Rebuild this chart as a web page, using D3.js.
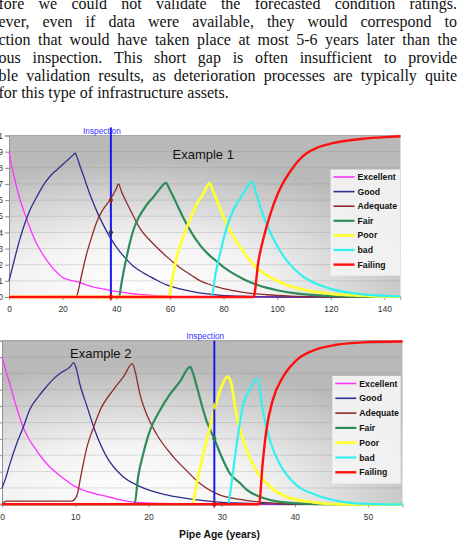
<!DOCTYPE html>
<html>
<head>
<meta charset="utf-8">
<script src="https://cdn.jsdelivr.net/npm/d3@7"></script>
<style>
  body { margin: 0; background: #fff; }
  svg { display: block; }
</style>
</head>
<body>
<svg width="474" height="555"></svg>
<script>

// ---- data ----
var paragraph = [
  "fore we could not validate the forecasted condition ratings.",
  "ever, even if data were available, they would correspond to",
  "ction that would have taken place at most 5-6 years later than the",
  "ous inspection. This short gap is often insufficient to provide",
  "ble validation results, as deterioration processes are typically quite",
  "for this type of infrastructure assets."
];

var conditions = ["Excellent", "Good", "Adequate", "Fair", "Poor", "bad", "Failing"];

// Example 1: [age, probability]
var excellent1 = [[0,0.90],[1,0.81],[2,0.74],[3,0.67],[4,0.61],[6,0.51],[8,0.42],[10,0.34],[12,0.28],[14,0.23],[16,0.185],[18,0.15],[20,0.12],[22,0.108],[24,0.10],[25,0.097],[28,0.08],[31,0.065],[34,0.053],[38,0.04],[42,0.03],[46,0.02],[50,0.014],[55,0.008],[60,0.004],[70,0.001],[80,0],[146,0]];
var good1 = [[0,0.10],[1,0.165],[2,0.23],[3,0.295],[4,0.355],[5,0.41],[6,0.46],[7,0.505],[8,0.545],[10,0.61],[12,0.67],[14,0.72],[16,0.76],[18,0.79],[20,0.82],[22,0.85],[24,0.88],[24.7,0.89],[25.5,0.86],[26.5,0.81],[28,0.74],[29,0.69],[31,0.60],[33.3,0.51],[36,0.42],[38,0.36],[41.4,0.28],[44,0.23],[46.4,0.19],[50,0.15],[52.6,0.126],[55,0.105],[58.8,0.075],[62,0.058],[65,0.045],[71,0.025],[78,0.012],[86,0.005],[100,0],[146,0]];
var adequate1 = [[0,0],[25,0],[26,0.05],[27,0.13],[29,0.27],[31,0.38],[32.7,0.465],[35,0.54],[38,0.61],[40,0.67],[40.8,0.70],[42,0.65],[44,0.58],[46.4,0.50],[49,0.42],[52.6,0.35],[55,0.31],[58.8,0.25],[62,0.205],[65,0.167],[68,0.135],[71.3,0.10],[74,0.082],[77.5,0.062],[83.7,0.039],[90,0.023],[96,0.014],[105,0.006],[115,0.002],[125,0],[146,0]];
var fair1 = [[0,0],[41,0],[42,0.09],[43,0.18],[43.9,0.25],[45,0.33],[46.4,0.415],[48,0.48],[50.1,0.54],[52,0.585],[53.9,0.62],[56,0.665],[58.6,0.707],[59.5,0.68],[61.3,0.62],[63,0.56],[65,0.49],[68,0.40],[71.3,0.32],[74,0.27],[77.5,0.22],[80,0.185],[83.7,0.145],[87,0.115],[90,0.092],[93,0.073],[96,0.058],[100,0.042],[107,0.022],[115,0.01],[125,0.004],[146,0]];
var poor1 = [[0,0],[59.5,0],[61,0.12],[62.6,0.25],[64.5,0.35],[66.3,0.43],[68,0.50],[70,0.575],[72.5,0.64],[74.8,0.705],[76,0.66],[78.7,0.55],[81.2,0.45],[83.7,0.375],[87.4,0.28],[91.2,0.20],[96,0.135],[100,0.10],[104,0.072],[108.6,0.05],[115,0.03],[120,0.02],[130,0.009],[146,0.002]];
var bad1 = [[0,0],[75.5,0],[77,0.14],[78.7,0.27],[81.2,0.43],[83.7,0.54],[87.4,0.64],[90.6,0.715],[92,0.65],[93.7,0.56],[96.1,0.45],[99.9,0.32],[103.6,0.225],[108.6,0.14],[114.8,0.08],[120,0.05],[125,0.032],[132,0.016],[140,0.007],[146,0.004]];
var failing1 = [[0,0],[91.2,0],[93,0.22],[95,0.37],[97.4,0.51],[100,0.63],[102,0.70],[105,0.78],[108,0.845],[111,0.89],[115,0.925],[120,0.95],[126,0.968],[132,0.98],[140,0.99],[146,0.995]];

// Example 2: [age, probability]
var excellent2 = [[0,0.90],[0.5,0.82],[1.1,0.73],[2,0.59],[2.9,0.47],[3.8,0.39],[4.7,0.33],[5.5,0.28],[6.5,0.23],[7.5,0.19],[8.5,0.155],[10,0.108],[11.5,0.08],[13.4,0.057],[15,0.04],[17.5,0.017],[19,0.01],[22,0.005],[26,0],[54.7,0]];
var good2 = [[0,0.10],[0.5,0.16],[1.1,0.25],[2,0.37],[2.9,0.47],[3.8,0.58],[5,0.66],[6.1,0.72],[7,0.765],[7.9,0.80],[9.3,0.84],[9.8,0.866],[10.2,0.82],[10.6,0.74],[11.6,0.60],[12.7,0.45],[14.3,0.29],[16.5,0.17],[18.8,0.11],[22.5,0.057],[27,0.025],[29,0.015],[32,0.008],[36,0.003],[40,0],[54.7,0]];
var adequate2 = [[0,0],[0.6,0.02],[9.5,0.02],[10.2,0.05],[10.8,0.18],[11.6,0.35],[12.5,0.47],[13.4,0.575],[15.2,0.70],[16.6,0.78],[17.8,0.86],[18.3,0.79],[18.8,0.68],[19.7,0.556],[21.1,0.43],[23.4,0.29],[25,0.215],[27,0.128],[29.7,0.057],[32.5,0.03],[35,0.015],[38,0.005],[42,0],[54.7,0]];
var fair2 = [[0,0],[18.1,0],[18.6,0.17],[19.3,0.31],[20.2,0.45],[21.6,0.576],[22.9,0.67],[24.3,0.75],[25.7,0.84],[26.1,0.80],[26.6,0.72],[27.9,0.515],[29,0.40],[30.1,0.28],[31.1,0.19],[32.5,0.13],[33.4,0.09],[35.6,0.04],[37.9,0.015],[42,0.003],[45,0],[54.7,0]];
var poor2 = [[0,0],[26,0],[26.6,0.13],[27.5,0.31],[28.4,0.47],[29,0.58],[30,0.72],[30.8,0.78],[31.3,0.74],[32,0.55],[32.7,0.43],[33.4,0.33],[34.7,0.21],[36.6,0.108],[38.8,0.047],[42.5,0.012],[46,0],[54.7,0]];
var bad2 = [[0,0],[30.9,0],[31.1,0.05],[32,0.35],[32.9,0.60],[33.8,0.70],[34.9,0.77],[35.6,0.58],[36.6,0.39],[37.9,0.25],[40.2,0.118],[42.9,0.057],[47,0.012],[50,0.003],[54.7,0]];
var failing2 = [[0,0],[35.1,0],[35.6,0.25],[36.1,0.45],[37,0.64],[38.4,0.78],[40.2,0.88],[42.5,0.94],[45.7,0.975],[49.3,0.99],[54.7,0.995]];

var xTicks1 = [0, 20, 40, 60, 80, 100, 120, 140];
var xTicks2 = [0, 10, 20, 30, 40, 50];
var yTicks = [0, 0.1, 0.2, 0.3, 0.4, 0.5, 0.6, 0.7, 0.8, 0.9, 1];

var inspection1 = {age: 38, marks: [["Adequate", 0.6], ["Good", 0.4], ["Failing", 0]]};
var inspection2 = {age: 29, marks: [["Poor", 0.6], ["Fair", 0.4], ["Failing", 0]]};

// ---- styles ----
var colors = {Excellent: "#ff33ff", Good: "#2e2e8c", Adequate: "#8f2a2a", Fair: "#2e8b5a",
              Poor: "#ffff33", bad: "#33f0f0", Failing: "#ff1010"};
var widths = {Excellent: 1.3, Good: 1.3, Adequate: 1.3, Fair: 2.2, Poor: 2.8, bad: 2.2, Failing: 2.4};
var sans = "'Liberation Sans', Arial, sans-serif";

var svg = d3.select("svg");

// ---- paragraph (justified) ----
var para = svg.append("g")
    .style("font-family", "'Liberation Serif', 'Times New Roman', 'DejaVu Serif', serif")
    .style("font-size", "16px")
    .attr("fill", "#111");

paragraph.forEach(function(line, i) {
  var words = line.split(" ");
  var t = para.append("text").attr("y", 9.3 + i * 17.8);
  var spans = t.selectAll("tspan").data(words).join("tspan").text(function(d) { return d; });
  var w = spans.nodes().map(function(n) { return n.getComputedTextLength(); });
  var left = -1.5, right = 457;
  var gap = i < paragraph.length - 1 ? (right - left - d3.sum(w)) / (words.length - 1) : 4;
  var pos = left;
  spans.attr("x", function(d, j) { var p = pos; pos += w[j] + gap; return p; });
});

// ---- charts ----
function drawChart(cfg) {
  var x = d3.scaleLinear().domain([0, cfg.xMax]).range([cfg.left, cfg.right]);
  var y = d3.scaleLinear().domain([0, 1]).range([cfg.bottom, cfg.top]);
  var g = svg.append("g");

  var grad = svg.append("defs").append("radialGradient")
      .attr("id", cfg.id + "-bg")
      .attr("cx", 0.33).attr("cy", 0.95).attr("r", 0.8);
  grad.append("stop").attr("offset", 0).attr("stop-color", "#ffffff");
  grad.append("stop").attr("offset", 0.4).attr("stop-color", "#f3f3f3");
  grad.append("stop").attr("offset", 1).attr("stop-color", "#b9b9b9");

  g.append("rect")
      .attr("x", x(0)).attr("y", y(1))
      .attr("width", x(cfg.xMax) - x(0)).attr("height", y(0) - y(1))
      .attr("fill", "url(#" + cfg.id + "-bg)");

  // grid
  g.append("g").selectAll("line").data(yTicks.slice(1)).join("line")
      .attr("x1", x(0)).attr("x2", x(cfg.xMax))
      .attr("y1", function(d) { return y(d); }).attr("y2", function(d) { return y(d); })
      .attr("stroke", d3.rgb(140, 140, 140, 0.35)).attr("stroke-width", 0.8);
  g.append("line")
      .attr("x1", x(0)).attr("x2", x(cfg.xMax)).attr("y1", y(1)).attr("y2", y(1))
      .attr("stroke", "#a8a8a8").attr("stroke-width", 1.2);

  // axes (y labels only where they reach into the page)
  var yAxis = g.append("g")
      .attr("transform", "translate(" + x(0) + ",0)")
      .call(d3.axisLeft(y).tickValues(yTicks).tickSize(4).tickPadding(2)
            .tickFormat(cfg.yLabels ? d3.format("~g") : ""));
  var xAxis = g.append("g")
      .attr("transform", "translate(0," + y(0) + ")")
      .call(d3.axisBottom(x).tickValues(cfg.xTicks).tickSize(3).tickPadding(cfg.tickPad));
  [xAxis, yAxis].forEach(function(a) {
    a.attr("font-family", sans).attr("font-size", 8.5);
    a.select(".domain").attr("stroke", "#909090");
    a.selectAll(".tick line").attr("stroke", "#909090");
    a.selectAll(".tick text").attr("fill", "#333");
  });

  // curves
  var line = d3.line()
      .x(function(d) { return x(d[0]); })
      .y(function(d) { return y(d[1]); })
      .curve(d3.curveMonotoneX);

  g.append("g").selectAll("path").data(cfg.series).join("path")
      .attr("d", function(d) { return line(d.values); })
      .attr("fill", "none")
      .attr("stroke", function(d) { return colors[d.name]; })
      .attr("stroke-width", function(d) { return widths[d.name]; })
      .attr("stroke-linejoin", "round");

  // inspection
  var ix = x(cfg.inspection.age);
  g.append("line")
      .attr("x1", ix).attr("x2", ix)
      .attr("y1", y(1) - cfg.inspectExtra).attr("y2", y(0))
      .attr("stroke", "#1a1aee").attr("stroke-width", 2);
  g.append("text")
      .attr("x", ix - 9).attr("y", cfg.inspectLabelY)
      .attr("text-anchor", "middle")
      .attr("font-family", sans).attr("font-size", 8.3)
      .attr("fill", "#3535ff")
      .text("Inspection");
  g.append("g").selectAll("path").data(cfg.inspection.marks).join("path")
      .attr("transform", function(d) { return "translate(" + ix + "," + y(d[1]) + ")"; })
      .attr("d", d3.symbol(d3.symbolDiamond, 18))
      .attr("fill", function(d) { return d3.color(colors[d[0]]).darker(0.3); });

  // example label
  g.append("text")
      .attr("x", cfg.exampleX).attr("y", cfg.exampleY)
      .attr("font-family", sans).attr("font-size", 13)
      .attr("fill", "#111")
      .text(cfg.title);

  // legend
  var leg = g.append("g").attr("transform", "translate(" + cfg.legendX + "," + cfg.legendY + ")");
  leg.append("rect")
      .attr("width", cfg.legendW).attr("height", cfg.legendStep * conditions.length + 4)
      .attr("fill", "#f4f4f4").attr("fill-opacity", 0.92);
  var item = leg.selectAll("g").data(conditions).join("g")
      .attr("transform", function(d, i) { return "translate(0," + (7.5 + i * cfg.legendStep) + ")"; });
  item.append("line")
      .attr("x1", 3).attr("x2", 24)
      .attr("stroke", function(d) { return colors[d]; })
      .attr("stroke-width", function(d) { return Math.max(1.6, widths[d]); });
  item.append("text")
      .attr("x", 27).attr("dy", "0.35em")
      .attr("font-family", sans).attr("font-size", 8.7).attr("font-weight", "bold")
      .attr("fill", "#111")
      .text(function(d) { return d; });

  return {x: x, y: y};
}

function seriesOf(list) {
  return conditions.map(function(name, i) { return {name: name, values: list[i]}; });
}

drawChart({
  id: "c1", title: "Example 1", yLabels: true,
  left: 9, right: 400.5, top: 135.5, bottom: 297,
  xMax: 146, xTicks: xTicks1, tickPad: 6,
  series: seriesOf([excellent1, good1, adequate1, fair1, poor1, bad1, failing1]),
  inspection: inspection1, inspectExtra: 8, inspectLabelY: 134,
  exampleX: 172.5, exampleY: 158.5,
  legendX: 330.5, legendY: 169.5, legendW: 69.5, legendStep: 14.6
});

drawChart({
  id: "c2", title: "Example 2", yLabels: false,
  left: 2, right: 402.5, top: 340.7, bottom: 504.3,
  xMax: 54.7, xTicks: xTicks2, tickPad: 7,
  series: seriesOf([excellent2, good2, adequate2, fair2, poor2, bad2, failing2]),
  inspection: inspection2, inspectExtra: 0, inspectLabelY: 339,
  exampleX: 70, exampleY: 358,
  legendX: 332.3, legendY: 376, legendW: 68.4, legendStep: 14.8
});

svg.append("text")
    .attr("x", 219.5).attr("y", 538.3)
    .attr("text-anchor", "middle")
    .attr("font-family", sans).attr("font-size", 10.5).attr("font-weight", "bold")
    .attr("textLength", 81).attr("lengthAdjust", "spacingAndGlyphs")
    .attr("fill", "#111")
    .text("Pipe Age (years)");

</script>
</body>
</html>
